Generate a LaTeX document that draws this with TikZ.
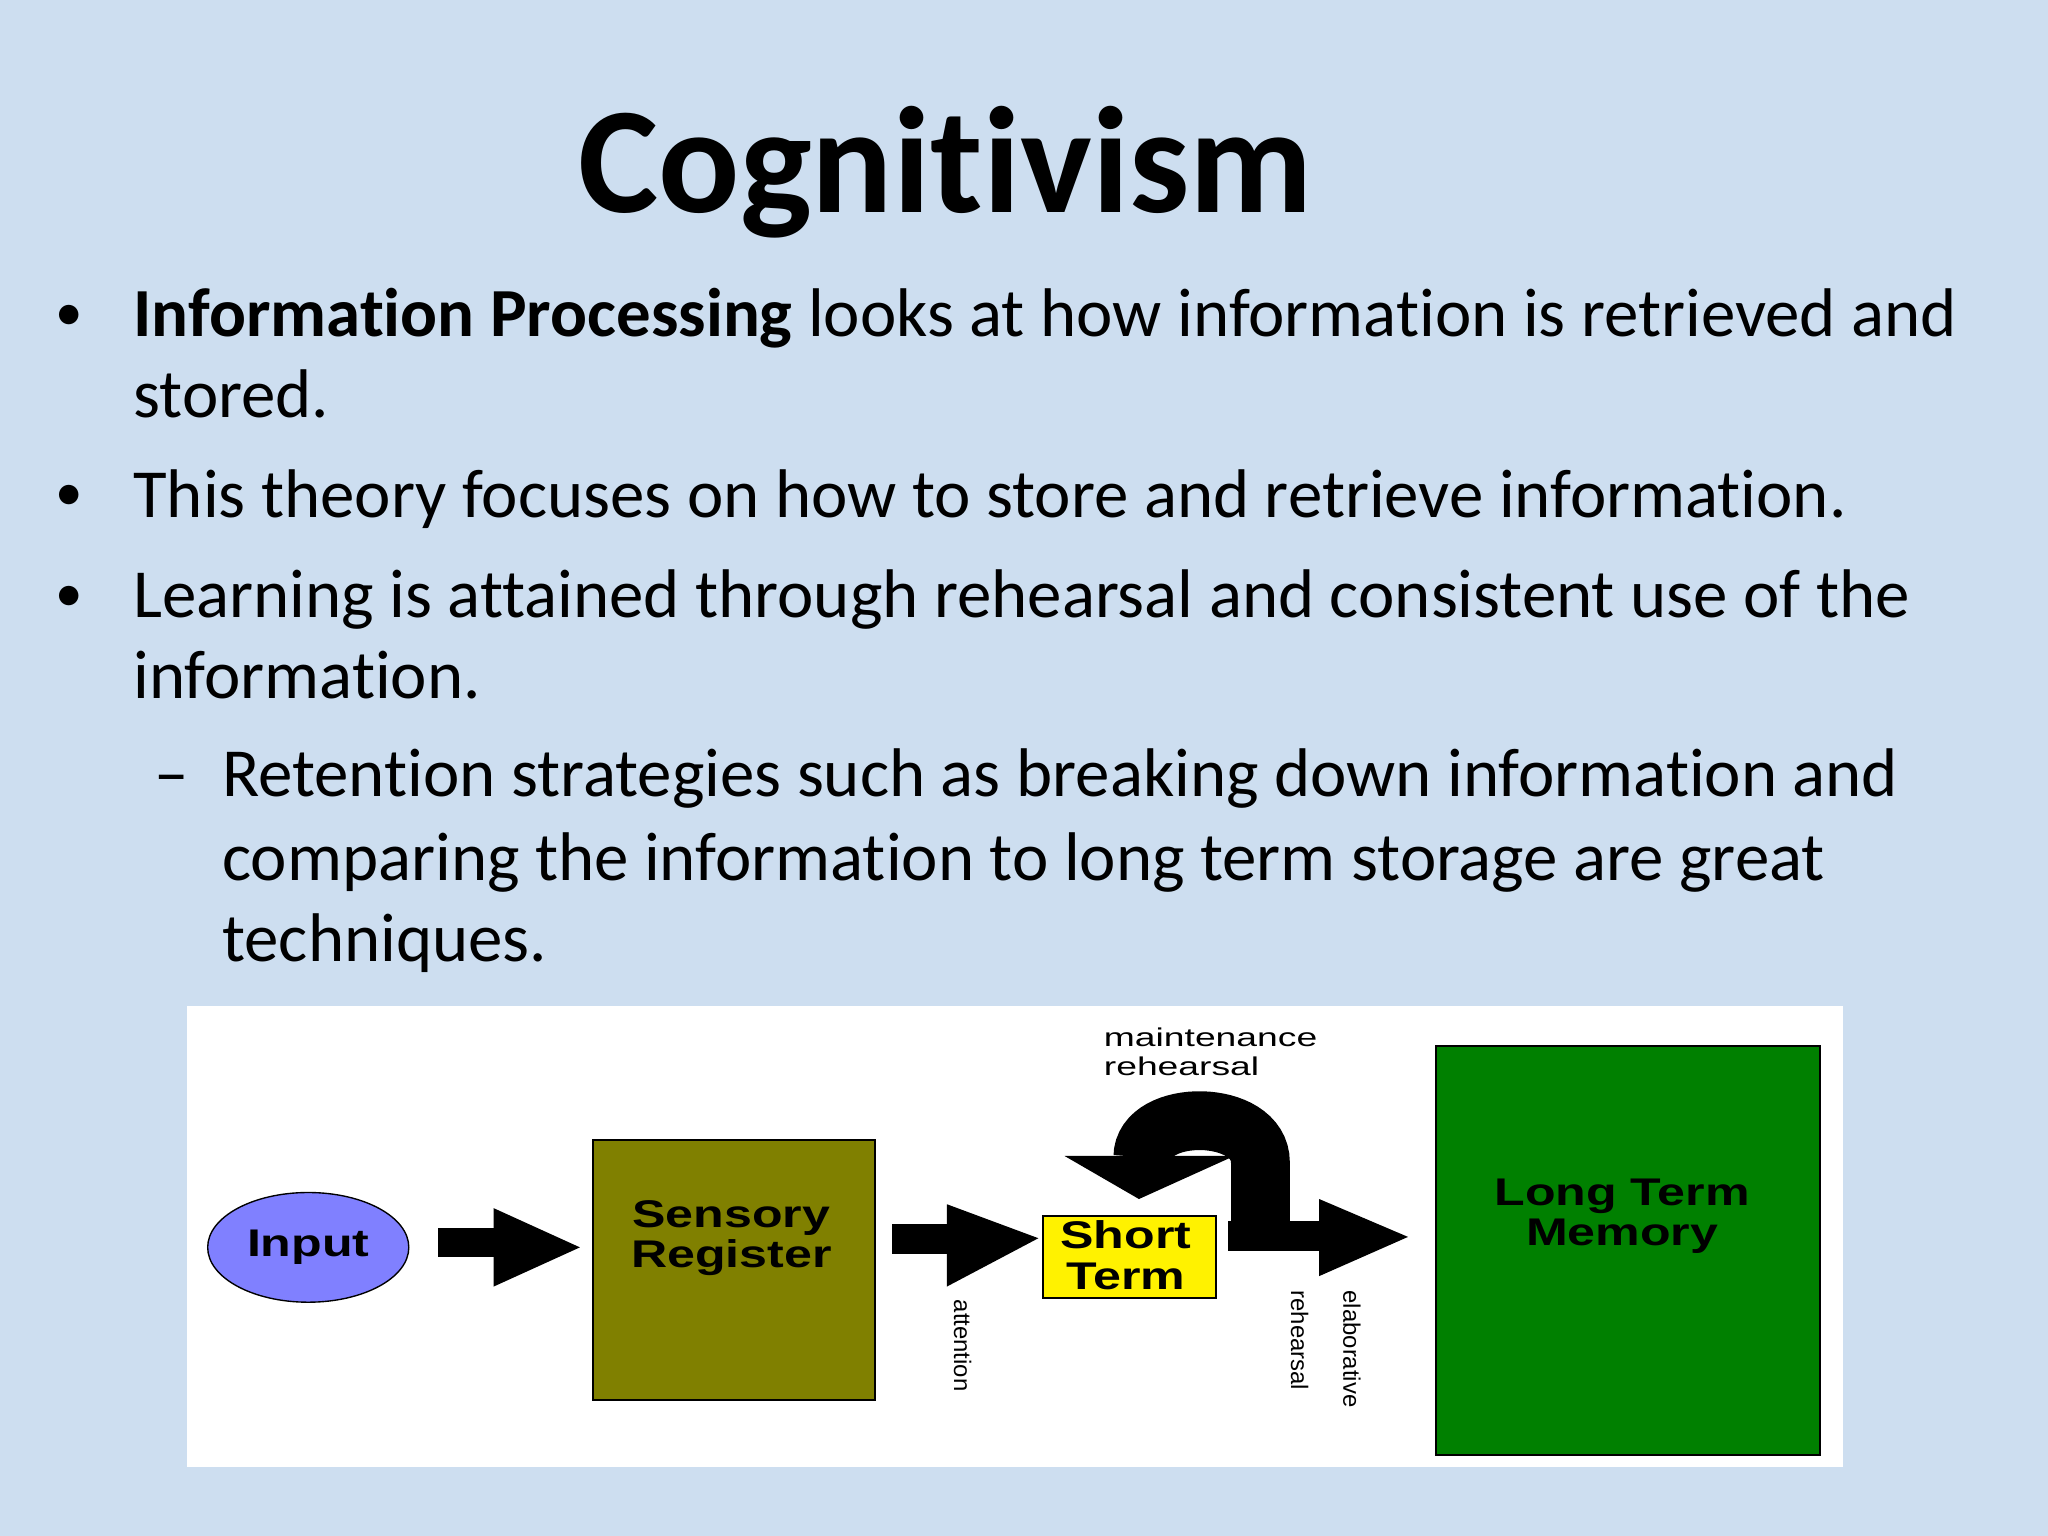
\documentclass[tikz,border=0pt]{standalone}
\usepackage{fontspec}
\setmainfont[Ligatures=NoCommon]{Carlito}
\newfontfamily\arialf{Liberation Sans}
\usetikzlibrary{shapes.geometric}
\definecolor{bg}{RGB}{205,222,240}
\definecolor{inblue}{RGB}{128,128,255}
\definecolor{olive}{RGB}{128,128,0}
\definecolor{ltm}{RGB}{0,128,0}
\newcommand{\widetxt}[1]{\scalebox{1.3}[1]{#1}}
\begin{document}
\begin{tikzpicture}[x=0.05cm,y=-0.05cm,
  body/.style={anchor=base west,inner sep=0,font=\fontsize{75}{90}\selectfont},
  blab/.style={font=\arialf\bfseries\fontsize{42}{44}\selectfont,align=center,inner sep=0},
  slab/.style={font=\arialf\fontsize{26}{31}\selectfont,inner sep=0},
  box/.style={draw=black,line width=2pt}]
\fill[bg] (0,0) rectangle (1568,1176);
\useasboundingbox (0,0) rectangle (1568,1176);
\node[anchor=base,inner sep=0,font=\bfseries\fontsize{165}{170}\selectfont] (title) at (724,163) {Cognitivism};
\foreach \y in {253,391,468}{\node[anchor=base west,inner sep=0,font=\fontsize{60}{60}\selectfont] at (42,\y) {\textbullet};}
\node[body] (l1) at (102,258) {\textbf{Information Processing} looks at how information is retrieved and};
\node[body] (l2) at (102,320) {stored.};
\node[body] (l3) at (102,396) {This theory focuses on how to store and retrieve information.};
\node[body] (l4) at (102,473) {Learning is attained through rehearsal and consistent use of the};
\node[body] (l5) at (102,535) {information.};
\node[body] (d) at (118,610) {--};
\node[body] (l6) at (170,610) {Retention strategies such as breaking down information and};
\node[body] (l7) at (170,674) {comparing the information to long term storage are great};
\node[body] (l8) at (170,736) {techniques.};
% diagram
\fill[white] (143,770) rectangle (1411,1123);
\node[ellipse,draw=black,line width=1.5pt,fill=inblue,minimum width=7.7cm,minimum height=4.2cm,blab] (in) at (236,955) {\widetxt{Input}};
\node[box,fill=olive,minimum width=10.8cm,minimum height=9.95cm,anchor=north west] (sr) at (453,872) {};
\node[blab] at (560,948) {\widetxt{Sensory}\\\widetxt{Register}};
\node[box,fill=yellow,minimum width=6.6cm,minimum height=3.15cm,anchor=north west] (st) at (798,930) {};
\node[blab] at (862,961) {\widetxt{Short}\\\widetxt{Term}};
\node[box,fill=ltm,minimum width=14.7cm,minimum height=15.65cm,anchor=north west] (lt) at (1099,800) {};
\node[blab] at (1242,931) {\widetxt{Long Term}\\\widetxt{Memory}};
% arrows
\fill (335,940) rectangle (378,962); \fill (378,925) -- (444,955) -- (378,985) -- cycle;
\fill (683,937) rectangle (725,960); \fill (725,922) -- (795,948) -- (725,985) -- cycle;
\draw[line width=2.25cm] (965,955) -- (965,890) .. controls (965,848) and (875,848) .. (875,886);
\fill (815,885) -- (945,885) -- (872,918) -- cycle;
\fill (940,935) rectangle (1010,958); \fill (1010,918) -- (1078,947) -- (1010,977) -- cycle;
\node[slab,anchor=north west,align=left,font=\arialf\fontsize{28}{31}\selectfont] (mr) at (845,787) {\scalebox{1.45}[1]{maintenance}\\\scalebox{1.45}[1]{rehearsal}};
\node[slab,rotate=-90,anchor=west] (att) at (737,995) {attention};
\node[slab,rotate=-90,anchor=west] (reh) at (995,988) {rehearsal};
\node[slab,rotate=-90,anchor=west] (el) at (1035,988) {elaborative};
\end{tikzpicture}
\end{document}
